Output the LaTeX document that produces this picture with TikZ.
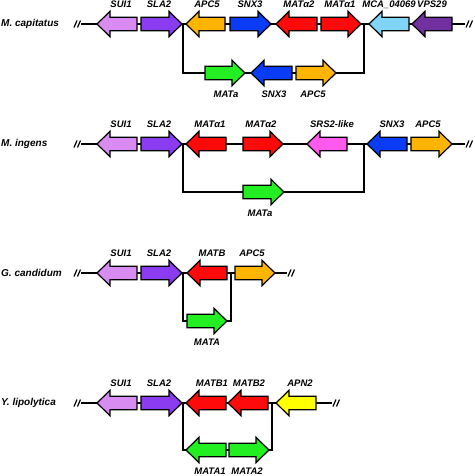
\documentclass[tikz,border=0pt]{standalone}
\usepackage{fontspec}
\setmainfont{Liberation Sans}
\definecolor{cSUI}{HTML}{D88CF2}
\definecolor{cSLA}{HTML}{8B3CF0}
\definecolor{cAPC}{HTML}{FFB400}
\definecolor{cSNX}{HTML}{0A3CF5}
\definecolor{cMATal}{HTML}{FF0A0A}
\definecolor{cMCA}{HTML}{80D4F8}
\definecolor{cVPS}{HTML}{7030A0}
\definecolor{cMATa}{HTML}{22EE22}
\definecolor{cSRS}{HTML}{FF5AEE}
\definecolor{cAPN}{HTML}{FFFF00}
\tikzset{
  genebody/.style={draw=black, line width=1.2pt, line join=miter},
  link/.style={draw=black, line width=1.2pt},
  genelab/.style={font=\fontsize{9.5}{10}\selectfont\bfseries\itshape, inner sep=0pt},
  species/.style={font=\fontsize{10}{12}\selectfont\bfseries\itshape, inner sep=0pt, anchor=west},
  breakmark/.style={draw=black, line width=1.2pt},
}
% \gene{name}{x1}{x2}{y}{R/L}{color}
\newcommand\gene[6]{%
  \node[inner sep=0pt, minimum width={(#3-#2)*1pt}, minimum height=14pt, anchor=west] (#1) at (#2,#4) {};
  \if#5R
    \filldraw[genebody, fill=#6] (#2,#4-6.7) -- (#3-13,#4-6.7) -- (#3-13,#4-12.7) -- (#3,#4) -- (#3-13,#4+12.7) -- (#3-13,#4+6.7) -- (#2,#4+6.7) -- cycle;
  \else
    \filldraw[genebody, fill=#6] (#3,#4-6.7) -- (#2+13,#4-6.7) -- (#2+13,#4-12.7) -- (#2,#4) -- (#2+13,#4+12.7) -- (#2+13,#4+6.7) -- (#3,#4+6.7) -- cycle;
  \fi}
\newcommand\brk[2]{%
  \draw[breakmark] (#1,#2+3.5) -- (#1+3,#2-3.5) (#1+3.5,#2+3.5) -- (#1+6.5,#2-3.5);}
\begin{document}
\begin{tikzpicture}[x=1pt,y=-1pt]
\useasboundingbox (0,0) rectangle (474,476);

% ===== Row 1: M. capitatus =====
\node[species] (sp1) at (1,24) {M. capitatus};
\coordinate (s1) at (81,24);
\coordinate (e1) at (465,24);
\brk{74}{24}
\brk{466}{24}
\draw[link] (s1) -- (97,24) (182,24) -- (186,24);
\draw[link] (183,24) |- (205,73);
\draw[link] (137,24) -- (141,24) (225,24) -- (230,24) (271,24) -- (276,24) (317,24) -- (321,24) (361,24) -- (369,24) (409,24) -- (412,24) (452,24) -- (e1);
\draw[link] (364,24) |- (336,73);
\draw[link] (245,73) -- (251,73) (292,73) -- (296,73);
\gene{g1a}{97}{137}{24}{L}{cSUI}
\gene{g1b}{141}{182}{24}{R}{cSLA}
\gene{g1c}{186}{225}{24}{L}{cAPC}
\gene{g1d}{230}{271}{24}{R}{cSNX}
\gene{g1e}{276}{317}{24}{L}{cMATal}
\gene{g1f}{321}{361}{24}{R}{cMATal}
\gene{g1g}{369}{409}{24}{L}{cMCA}
\gene{g1h}{412}{452}{24}{L}{cVPS}
\gene{g1i}{205}{245}{73}{R}{cMATa}
\gene{g1j}{251}{292}{73}{L}{cSNX}
\gene{g1k}{296}{336}{73}{R}{cAPC}
\node[genelab] at (121,4.5) {SUI1};
\node[genelab] at (159,4.5) {SLA2};
\node[genelab] at (207,4.5) {APC5};
\node[genelab] at (250,4.5) {SNX3};
\node[genelab] at (299,4.5) {MATα2};
\node[genelab] at (340,4.5) {MATα1};
\node[genelab] at (389,4.5) {MCA\_04069};
\node[genelab] at (432,4.5) {VPS29};
\node[genelab] at (226,94) {MATa};
\node[genelab] at (274,94) {SNX3};
\node[genelab] at (313,94) {APC5};

% ===== Row 2: M. ingens =====
\node[species] (sp2) at (1,144) {M. ingens};
\coordinate (s2) at (81,144);
\coordinate (e2) at (465,144);
\brk{74}{144}
\brk{466}{144}
\draw[link] (s2) -- (97,144) (137,144) -- (141,144) (182,144) -- (186,144) (226,144) -- (243,144) (283,144) -- (307,144) (347,144) -- (367,144) (407,144) -- (411,144) (452,144) -- (e2);
\draw[link] (183,144) |- (243,192);
\draw[link] (284,192) -| (364,144);
\gene{g2a}{97}{137}{144}{L}{cSUI}
\gene{g2b}{141}{182}{144}{R}{cSLA}
\gene{g2c}{186}{226}{144}{L}{cMATal}
\gene{g2d}{243}{283}{144}{R}{cMATal}
\gene{g2e}{307}{347}{144}{L}{cSRS}
\gene{g2f}{367}{407}{144}{L}{cSNX}
\gene{g2g}{411}{452}{144}{R}{cAPC}
\gene{g2h}{243}{284}{192}{R}{cMATa}
\node[genelab] at (121,124) {SUI1};
\node[genelab] at (159,124) {SLA2};
\node[genelab] at (210,124) {MATα1};
\node[genelab] at (261,124) {MATα2};
\node[genelab] at (332,124) {SRS2-like};
\node[genelab] at (392,124) {SNX3};
\node[genelab] at (428,124) {APC5};
\node[genelab] at (260,213) {MATa};

% ===== Row 3: G. candidum =====
\node[species] (sp3) at (1,273) {G. candidum};
\coordinate (s3) at (81,273);
\coordinate (e3) at (287,273);
\brk{74}{273}
\brk{288}{273}
\draw[link] (s3) -- (97,273) (137,273) -- (141,273) (182,273) -- (187,273) (227,273) -- (235,273) (275,273) -- (e3);
\draw[link] (183,273) |- (187,321);
\draw[link] (227,321) -| (231,273);
\gene{g3a}{97}{137}{273}{L}{cSUI}
\gene{g3b}{141}{182}{273}{R}{cSLA}
\gene{g3c}{187}{227}{273}{L}{cMATal}
\gene{g3d}{235}{275}{273}{R}{cAPC}
\gene{g3e}{187}{227}{321}{R}{cMATa}
\node[genelab] at (121,253) {SUI1};
\node[genelab] at (159,253) {SLA2};
\node[genelab] at (212,253) {MATB};
\node[genelab] at (252,253) {APC5};
\node[genelab] at (207,342) {MATA};

% ===== Row 4: Y. lipolytica =====
\node[species] (sp4) at (1,403) {Y. lipolytica};
\coordinate (s4) at (81,403);
\coordinate (e4) at (332,403);
\brk{74}{403}
\brk{333}{403}
\draw[link] (s4) -- (97,403) (137,403) -- (141,403) (182,403) -- (186,403) (226,403) -- (228,403) (268,403) -- (276,403) (316,403) -- (e4);
\draw[link] (183,403) |- (186,450);
\draw[link] (226,450) -- (229,450);
\draw[link] (269,450) -| (272,403);
\gene{g4a}{97}{137}{403}{L}{cSUI}
\gene{g4b}{141}{182}{403}{R}{cSLA}
\gene{g4c}{186}{226}{403}{L}{cMATal}
\gene{g4d}{228}{268}{403}{L}{cMATal}
\gene{g4e}{276}{316}{403}{L}{cAPN}
\gene{g4f}{186}{226}{450}{L}{cMATa}
\gene{g4g}{229}{269}{450}{R}{cMATa}
\node[genelab] at (121,383) {SUI1};
\node[genelab] at (159,383) {SLA2};
\node[genelab] at (212,383) {MATB1};
\node[genelab] at (249,383) {MATB2};
\node[genelab] at (300,383) {APN2};
\node[genelab] at (210,471.5) {MATA1};
\node[genelab] at (247,471.5) {MATA2};
\end{tikzpicture}
\end{document}
